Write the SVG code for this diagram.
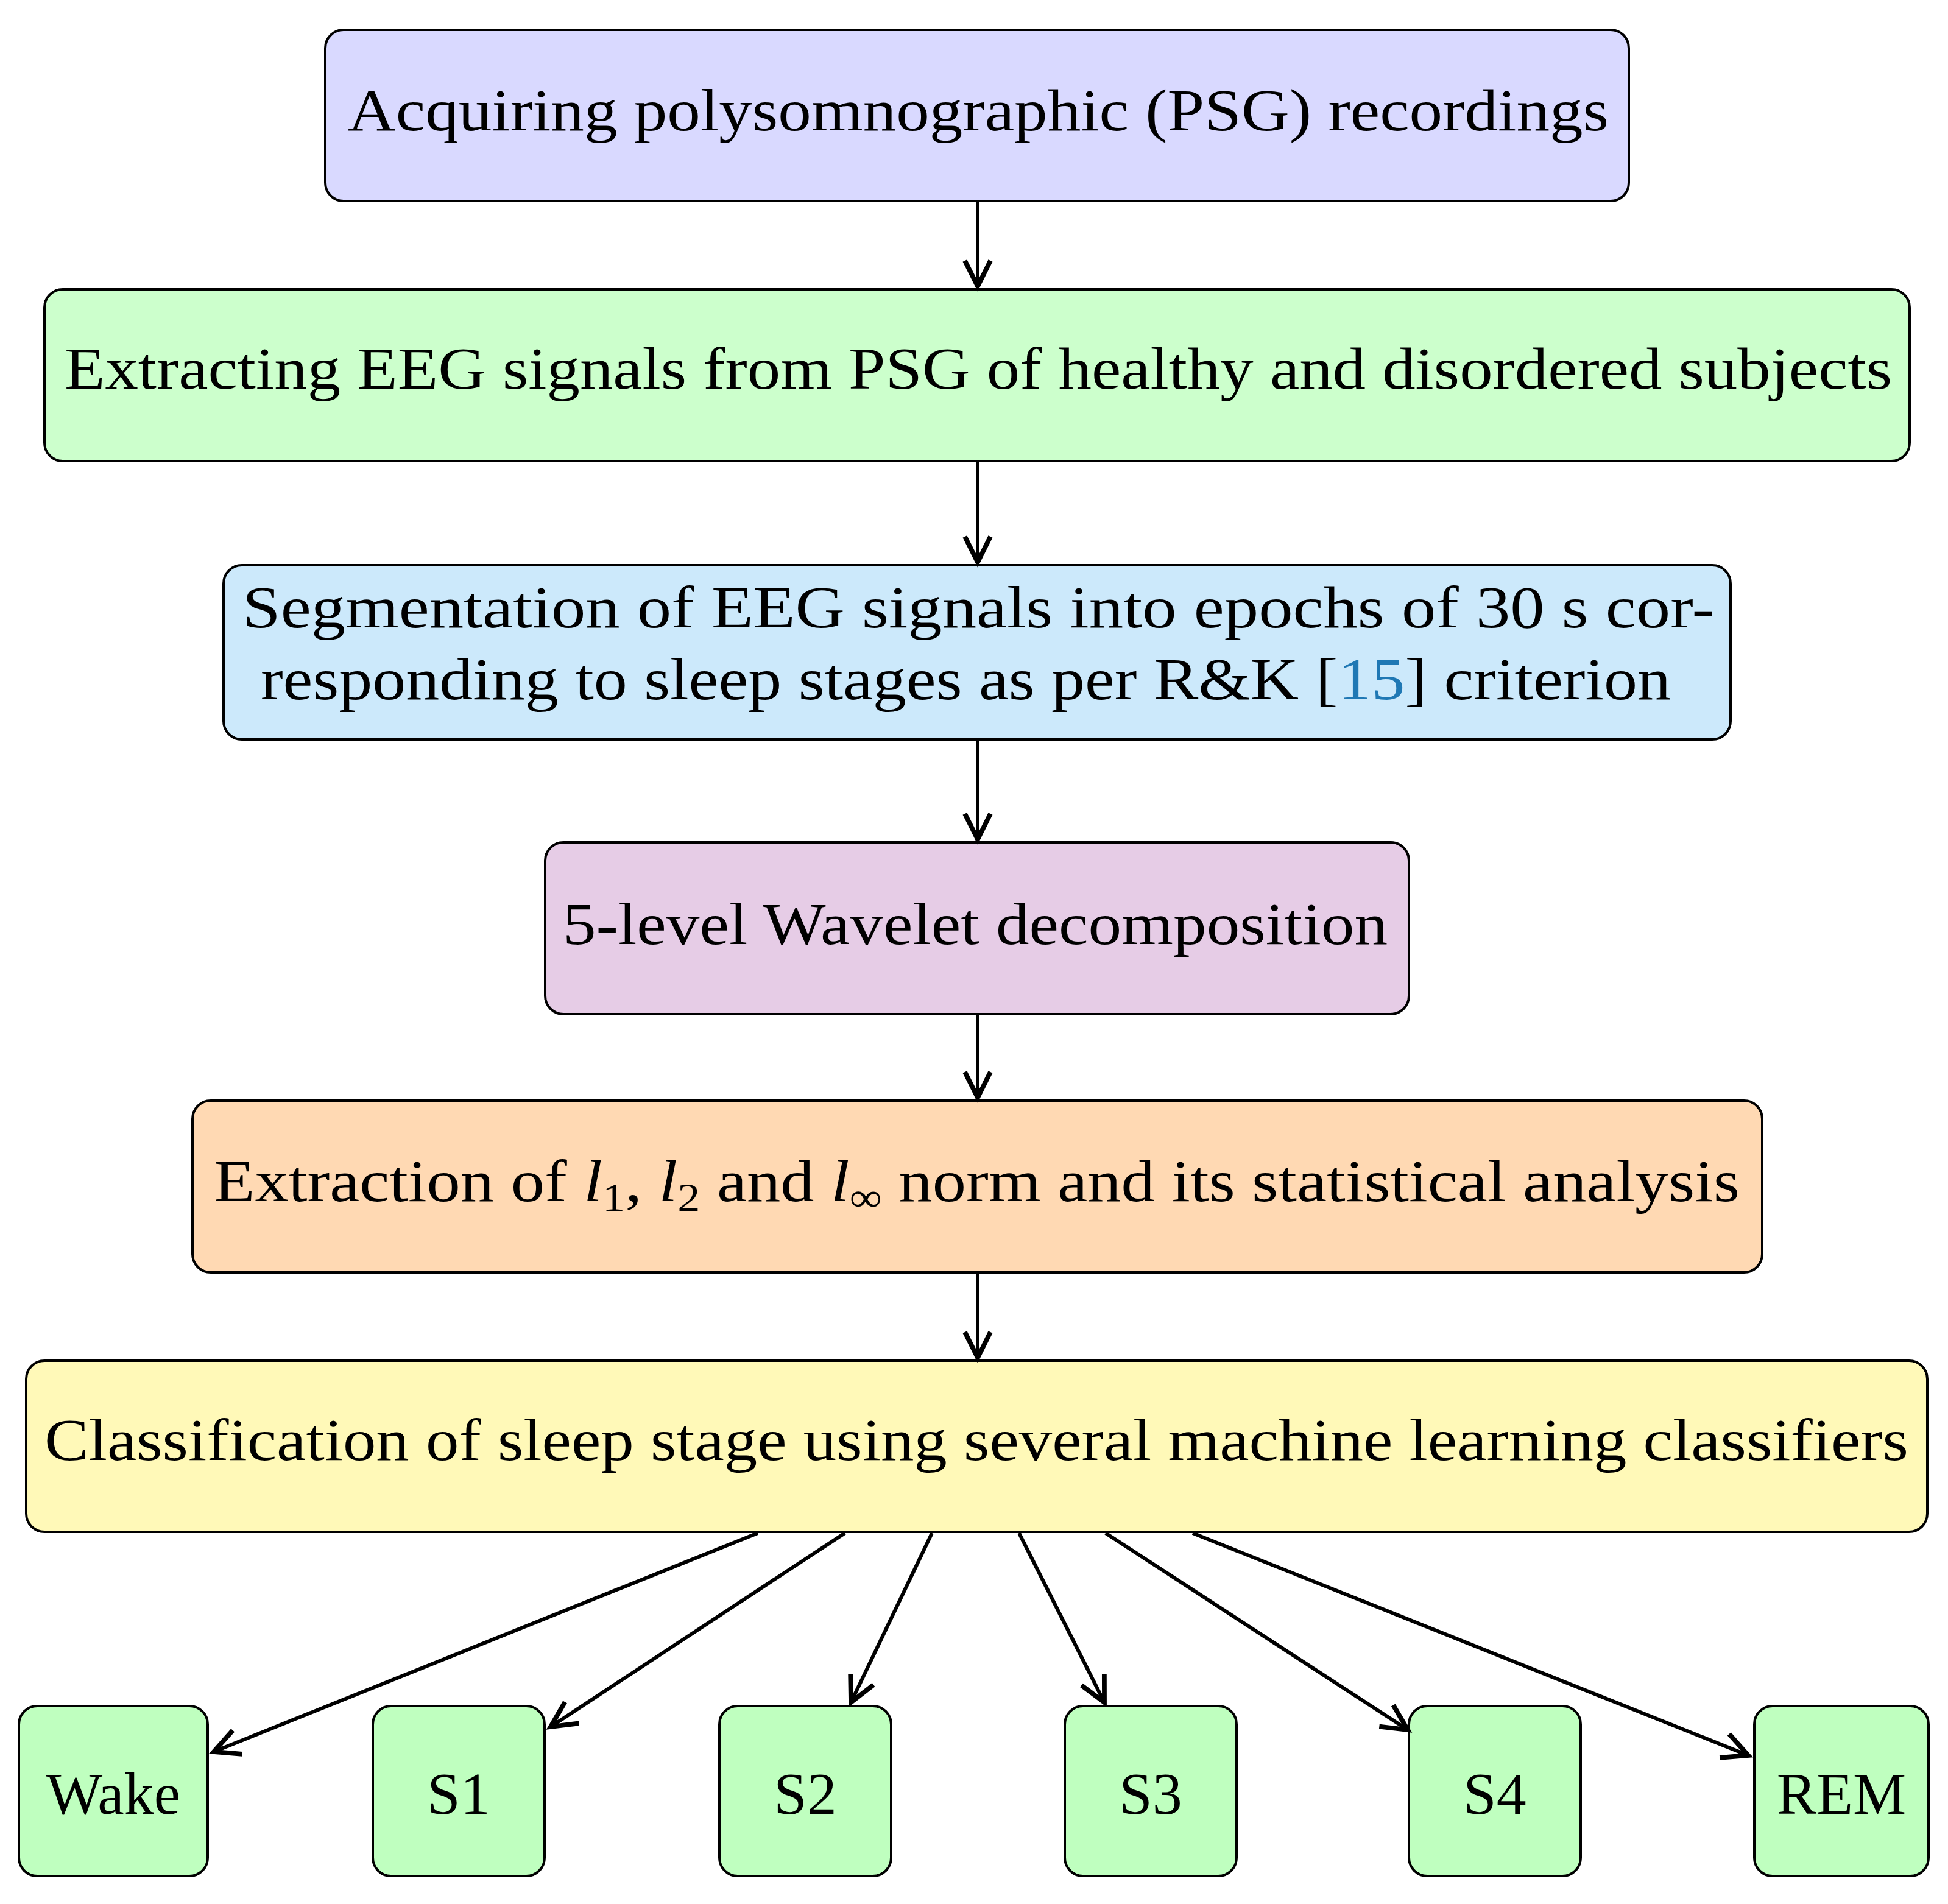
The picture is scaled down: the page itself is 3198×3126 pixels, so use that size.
<svg xmlns="http://www.w3.org/2000/svg" width="3198" height="3126" viewBox="0 0 3198 3126">
<style>
.b{stroke:#000;stroke-width:4}
text{font-family:"Liberation Serif",serif;font-size:98px;fill:#000}
.c{stroke:#000;stroke-width:6;fill:none;marker-end:url(#a)}
</style>
<defs><marker id="a" markerWidth="10" markerHeight="10" refX="8" refY="5" orient="auto" markerUnits="strokeWidth"><path d="M1,1.5 L8,5 L1,8.5" fill="none" stroke="#000" stroke-width="1.3"/></marker></defs>
<rect width="3198" height="3126" fill="#fff"/>
<g id="n1"><rect class="b" x="534" y="49" width="2140" height="281" rx="30" fill="#d9d9ff"/><text x="571" y="214" textLength="2070" lengthAdjust="spacingAndGlyphs">Acquiring polysomnographic (PSG) recordings</text></g>
<g id="n2"><rect class="b" x="73" y="475" width="3062" height="282" rx="30" fill="#ccffcc"/><text x="106" y="638" textLength="3000" lengthAdjust="spacingAndGlyphs">Extracting EEG signals from PSG of healthy and disordered subjects</text></g>
<g id="n3"><rect class="b" x="367" y="928" width="2474" height="286" rx="30" fill="#cce9fb"/><text x="398" y="1030" textLength="2417" lengthAdjust="spacingAndGlyphs">Segmentation of EEG signals into epochs of 30 s cor-</text><text x="428" y="1148" textLength="2315" lengthAdjust="spacingAndGlyphs">responding to sleep stages as per R&amp;K [<tspan fill="#1f78b4">15</tspan>] criterion</text></g>
<g id="n4"><rect class="b" x="895" y="1383" width="1418" height="282" rx="30" fill="#e6cce6"/><text x="924" y="1550" textLength="1354" lengthAdjust="spacingAndGlyphs">5-level Wavelet decomposition</text></g>
<g id="n5"><rect class="b" x="316" y="1807" width="2577" height="282" rx="30" fill="#ffd9b3"/><text x="351" y="1972" textLength="2505" lengthAdjust="spacingAndGlyphs">Extraction of <tspan font-style="italic">l</tspan><tspan font-size="66" dy="16">1</tspan><tspan dy="-16">, </tspan><tspan font-style="italic">l</tspan><tspan font-size="66" dy="16">2</tspan><tspan dy="-16"> and </tspan><tspan font-style="italic">l</tspan><tspan font-size="66" dy="16">∞</tspan><tspan dy="-16"> norm and its statistical analysis</tspan></text></g>
<g id="n6"><rect class="b" x="43" y="2234" width="3121" height="281" rx="30" fill="#fff9b8"/><text x="73" y="2397" textLength="3060" lengthAdjust="spacingAndGlyphs">Classification of sleep stage using several machine learning classifiers</text></g>
<g id="wake"><rect class="b" x="31" y="2801" width="310" height="279" rx="30" fill="#bfffbf"/><text x="186" y="2978" text-anchor="middle">Wake</text></g>
<g id="s1"><rect class="b" x="612" y="2801" width="282" height="279" rx="30" fill="#bfffbf"/><text x="753" y="2978" text-anchor="middle">S1</text></g>
<g id="s2"><rect class="b" x="1181" y="2801" width="282" height="279" rx="30" fill="#bfffbf"/><text x="1322" y="2978" text-anchor="middle">S2</text></g>
<g id="s3"><rect class="b" x="1748" y="2801" width="282" height="279" rx="30" fill="#bfffbf"/><text x="1889" y="2978" text-anchor="middle">S3</text></g>
<g id="s4"><rect class="b" x="2313" y="2801" width="282" height="279" rx="30" fill="#bfffbf"/><text x="2454" y="2978" text-anchor="middle">S4</text></g>
<g id="rem"><rect class="b" x="2880" y="2801" width="286" height="279" rx="30" fill="#bfffbf"/><text x="3023" y="2978" text-anchor="middle">REM</text></g>
<g id="connectors">
<path class="c" d="M1605,332 V470"/>
<path class="c" d="M1605,759 V923"/>
<path class="c" d="M1605,1216 V1378"/>
<path class="c" d="M1605,1667 V1802"/>
<path class="c" d="M1605,2091 V2229"/>
<path class="c" d="M1244,2517 L351,2876"/>
<path class="c" d="M1387,2517 L904,2835"/>
<path class="c" d="M1530,2517 L1397,2795"/>
<path class="c" d="M1673,2517 L1813,2795"/>
<path class="c" d="M1815,2517 L2311,2840"/>
<path class="c" d="M1958,2517 L2870,2882"/>
</g>
</svg>
